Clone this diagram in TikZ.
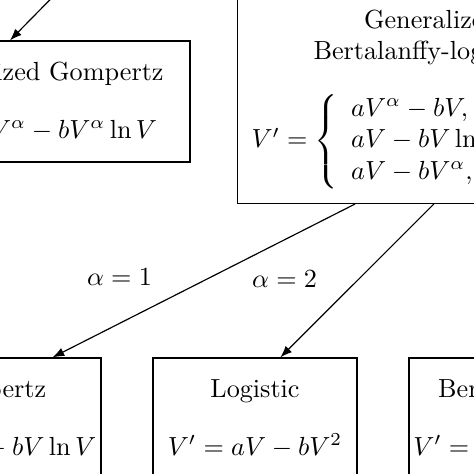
\documentclass[tikz,border=0pt]{standalone}
\usetikzlibrary{arrows.meta,calc}
\begin{document}
\begin{tikzpicture}[x=0.382pt,y=-0.382pt,
  box/.style={draw, line width=0.5pt, minimum height=46.2pt, align=center, inner sep=0pt},
  frame/.style={draw, line width=0.5pt, inner sep=0pt},
  link/.style={-{Latex[length=4.5pt,width=3.4pt]}, line width=0.45pt},
  lab/.style={inner sep=0pt}]
\useasboundingbox (0,0) rectangle (474,474);
\clip (0,0) rectangle (474,474);

% upper row
\node[box, minimum width=118.4pt] (ggomp) at (35,101.5)
  {Generalized Gompertz\\[10pt]$V'=aV^\alpha-bV^\alpha\ln V$};
\node[frame, minimum width=152.8pt, minimum height=107pt, anchor=south west] (gbl) at (236.5,204) {};
\node[lab, anchor=base west] (gblt1) at (363.5,29) {Generalized};
\node[lab, anchor=base west] (gblt2) at (313,60) {Bertalanffy-logistic};
\node[lab, anchor=base west] (gbleq) at (251,148)
  {$V'=\left\{\begin{array}{l} aV^\alpha-bV,\\ aV-bV\ln V,\\ aV-bV^\alpha,\end{array}\right.$};

% lower row
\node[box, minimum width=85.6pt] (gomp) at (-11,418.5)
  {Gompertz\\[10pt]$V'=aV-bV\ln V$};
\node[box, minimum width=77.9pt] (logi) at (255,418.5)
  {Logistic\\[10pt]$V'=aV-bV^2$};
\node[box, minimum width=71pt] (bert) at (502,418.5)
  {Bertalanffy\\[10pt]$V'=aV^\alpha-bV$};

% connectors
\coordinate (topsrc) at (90,-41);
\draw[link] (topsrc) -- ([xshift=-9.55pt]ggomp.north);
\draw[link] ([xshift=45.3pt]gbl.south west) --
  node[lab, xshift=-32.2pt, yshift=1.2pt] (lab1) {$\alpha=1$}
  ([xshift=-18.8pt]gomp.north east);
\draw[link] ([xshift=75.4pt]gbl.south west) --
  node[lab, xshift=-27.7pt, yshift=0.8pt] (lab2) {$\alpha=2$}
  ([xshift=9.7pt]logi.north);
\end{tikzpicture}
\end{document}
